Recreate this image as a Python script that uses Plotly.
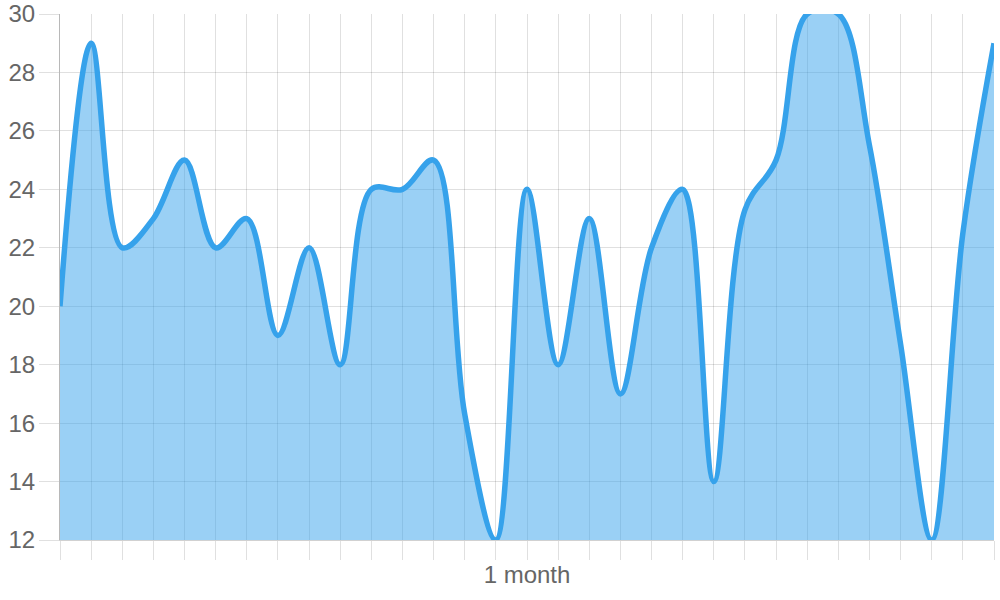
import plotly.graph_objects as go

# Data (31 daily points)
day_index = list(range(31))
values = [20, 29, 22, 23, 25, 22, 23, 19, 22, 18,
          24, 24, 25, 16.3, 12, 24, 18, 23, 17, 22,
          24, 14, 23.3, 25, 30, 30, 25.5, 18.7, 12, 22.5,
          29]
tick_labels = ["" for _ in day_index]
tick_labels[15] = "1 month"
y_ticks = [12, 14, 16, 18, 20, 22, 24, 26, 28, 30]

fig = go.Figure()
fig.add_trace(go.Scatter(
    x=day_index, y=values,
    mode="lines",
    line=dict(color="#36A2EB", width=5.5, shape="spline", smoothing=1.0),
    fill="tozeroy",
    fillcolor="rgba(54,162,235,0.5)",
    hoverinfo="skip",
))

font_family = "Liberation Sans, Arial, sans-serif"

fig.update_layout(
    width=1000, height=600,
    margin=dict(l=60, r=6, t=14, b=60, autoexpand=False),
    paper_bgcolor="white", plot_bgcolor="white",
    showlegend=False,
    font=dict(family=font_family, size=24, color="#666666"),
    xaxis=dict(
        range=[0, 30], automargin=False,
        tickmode="array", tickvals=day_index, ticktext=tick_labels,
        showgrid=True, gridcolor="rgba(0,0,0,0.12)", gridwidth=1,
        ticks="outside", ticklen=19, tickcolor="rgba(0,0,0,0.12)", tickwidth=1,
        showline=True, linecolor="rgba(0,0,0,0.18)", linewidth=1,
        zeroline=False, ticklabelstandoff=-6, ticklabeloverflow="allow",
        tickfont=dict(size=24, color="#666666", family=font_family),
    ),
    yaxis=dict(
        range=[12, 30], automargin=False,
        tickmode="array", tickvals=y_ticks,
        showgrid=True, gridcolor="rgba(0,0,0,0.12)", gridwidth=1,
        ticks="outside", ticklen=20, tickcolor="rgba(0,0,0,0.12)", tickwidth=1,
        showline=True, linecolor="rgba(0,0,0,0.28)", linewidth=1,
        zeroline=False, ticklabeloverflow="allow", ticklabelstandoff=-1,
        tickfont=dict(size=24, color="#666666", family=font_family),
    ),
)

fig.write_html(
    "out.html",
    config={"displayModeBar": False},
    post_script="document.body.style.margin='0';document.body.style.padding='0';",
)
